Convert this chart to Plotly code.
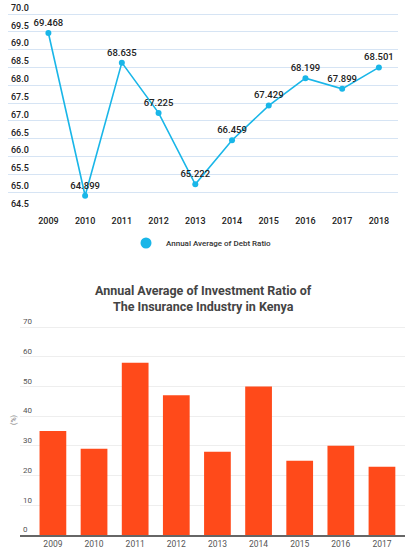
import plotly.graph_objects as go
from plotly.subplots import make_subplots

# Debt ratio (top chart)
debt_years = ["2009", "2010", "2011", "2012", "2013", "2014", "2015", "2016", "2017", "2018"]
debt_ratio = [69.468, 64.899, 68.635, 67.225, 65.222, 66.459, 67.429, 68.199, 67.899, 68.501]

# Investment ratio (bottom chart)
inv_years = ["2009", "2010", "2011", "2012", "2013", "2014", "2015", "2016", "2017"]
inv_ratio = [35, 29, 58, 47, 28, 50, 25, 30, 23]

debt_ticks = [64.5, 65.0, 65.5, 66.0, 66.5, 67.0, 67.5, 68.0, 68.5, 69.0, 69.5, 70.0]
inv_ticks = [0, 10, 20, 30, 40, 50, 60, 70]

W, H = 409, 550
line_color = "#19b6e8"
bar_color = "#ff4a1a"

fig = make_subplots(rows=2, cols=1)

fig.add_trace(go.Scatter(
    x=debt_years, y=debt_ratio, mode="lines+markers+text",
    line=dict(color=line_color, width=1.6),
    marker=dict(color=line_color, size=6),
    text=[f"{v:.3f}" for v in debt_ratio], textposition="top center",
    textfont=dict(family="Roboto", size=9.5, color="#222", weight=500),
    showlegend=False, cliponaxis=False), row=1, col=1)

# legend entry with a plain circle symbol
fig.add_trace(go.Scatter(
    x=[None], y=[None], mode="markers", name="Annual Average of Debt Ratio",
    marker=dict(color=line_color, size=11)), row=1, col=1)

fig.add_trace(go.Bar(
    x=inv_years, y=inv_ratio, marker=dict(color=bar_color, line=dict(width=0)),
    width=0.65, showlegend=False), row=2, col=1)

# top plot: 70.0 gridline at y=14px, 64.5 at y=210px; extra room above so the
# inside label of the top tick is not hidden
top_px = 2
debt_top = 70.0 + (14 - top_px) * 5.5 / 196
# bottom plot: 70 at y=327px, 0 at y=535px
bot_top_px = 316
inv_top = 70 + (327 - bot_top_px) * 70 / 208

fig.update_layout(
    width=W, height=H, margin=dict(l=0, r=0, t=0, b=0),
    paper_bgcolor="white", plot_bgcolor="white",
    font=dict(family="Roboto", color="#333"),
    xaxis=dict(domain=[8 / W, 398 / W], range=[-1.1, 9.52], showgrid=False,
               ticks="", ticklabelstandoff=4,
               tickfont=dict(size=9, color="#222", weight=500), showline=False),
    yaxis=dict(domain=[1 - 210 / H, 1 - top_px / H], range=[64.5, debt_top],
               tickvals=debt_ticks, ticktext=[f"{v:.1f}" for v in debt_ticks],
               ticklabelposition="inside top",
               tickfont=dict(size=9, color="#222", weight=500),
               gridcolor="#d6e4f4", gridwidth=1.2, zeroline=False, showline=False),
    xaxis2=dict(domain=[20 / W, 405 / W], range=[-0.8, 8.56], showgrid=False,
                ticks="", tickfont=dict(size=8.5, color="#555"),
                showline=True, linecolor="#666", linewidth=1.5),
    yaxis2=dict(domain=[1 - 535 / H, 1 - bot_top_px / H], range=[0, inv_top],
                tickvals=inv_ticks, ticklabelposition="inside top",
                tickfont=dict(size=8, color="#555"),
                gridcolor="#eeeeee", gridwidth=1, zeroline=False, showline=False),
    legend=dict(x=126 / W, y=1 - 243 / H, xanchor="left", yanchor="middle",
                font=dict(size=8, color="#333", weight=500), bgcolor="rgba(0,0,0,0)"),
    annotations=[
        dict(text="<b>Annual Average of Investment Ratio of<br>The Insurance Industry in Kenya</b>",
             x=203 / W, y=1 - 298 / H, xref="paper", yref="paper",
             showarrow=False, font=dict(size=12.5, color="#444"), align="center"),
        dict(text="(%)", x=8 / W, y=1 - 427 / H, xref="paper", yref="paper",
             showarrow=False, textangle=-90, font=dict(size=7, color="#777")),
    ],
)

fig.write_html("out.html", config={"displayModeBar": False},
               post_script="document.body.style.margin = '0';")
